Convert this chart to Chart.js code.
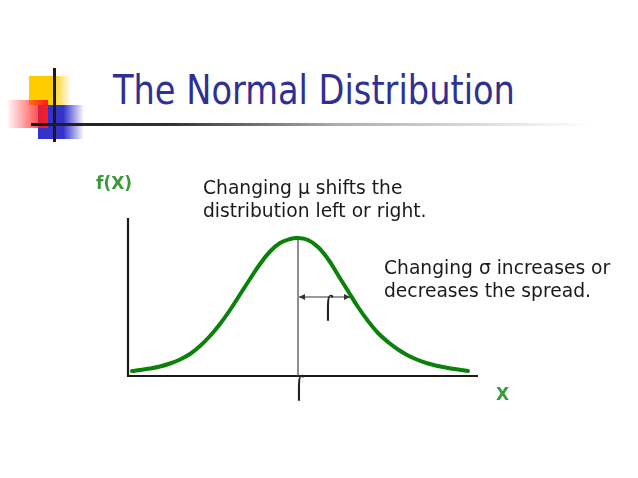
<!DOCTYPE html>
<html>
<head>
<meta charset="utf-8">
<script src="https://cdn.jsdelivr.net/npm/chart.js@4/dist/chart.umd.min.js"></script>
<style>
  html, body { margin: 0; padding: 0; background: #ffffff; }
  #wrap { position: relative; width: 638px; height: 478px; overflow: hidden; background: #fff; }
  #c { position: absolute; left: 0; top: 0; }
  .deco { position: absolute; }
  #title { position: absolute; left: 113px; top: 67px; font-family: "DejaVu Sans Condensed", "DejaVu Sans", sans-serif; font-size: 40px; color: #2E3192; white-space: nowrap; transform: scaleX(0.935); transform-origin: left top; }
  .txt { position: absolute; font-family: "DejaVu Sans", sans-serif; font-size: 18.7px; color: #1a1a1a; line-height: 23px; white-space: nowrap; }
  .lbl { position: absolute; font-family: "DejaVu Sans", sans-serif; font-weight: bold; font-size: 17px; color: #3A9A3A; white-space: nowrap; }
</style>
</head>
<body>
<div id="wrap">
  <div class="deco" style="left:29px;top:76px;width:42px;height:29px;background:linear-gradient(to right,#FFCC00 0%,#FFCC00 55%,rgba(255,204,0,0) 100%);"></div>
  <div class="deco" style="left:38px;top:105px;width:46px;height:34px;background:linear-gradient(to right,#3333CC 0%,#3333CC 55%,rgba(51,51,204,0) 100%);"></div>
  <div class="deco" style="left:8px;top:100px;width:40px;height:28px;background:linear-gradient(to right,rgba(255,60,60,0.05) 0%,rgba(255,40,40,0.55) 50%,#ff1a1a 100%);"></div>
  <div class="deco" style="left:53px;top:68px;width:2.5px;height:74px;background:#1a1a1a;"></div>
  <div class="deco" style="left:31px;top:123px;width:560px;height:2.5px;background:linear-gradient(to right,#1a1a1a 0%,#333 25%,rgba(120,120,120,0.6) 55%,rgba(200,200,200,0) 100%);"></div>
  <div id="title">The Normal Distribution</div>
  <canvas id="c" width="638" height="478"></canvas>
  <div class="txt" style="left:203px;top:176px;">Changing μ shifts the<br>distribution left or right.</div>
  <div class="txt" style="left:384px;top:256px;">Changing σ increases or<br>decreases the spread.</div>
  <div class="lbl" style="left:96px;top:173px;">f(X)</div>
  <div class="lbl" style="left:496px;top:384px;">X</div>
</div>
<script>
// Curve: horizontal position along the axis and height above the x-axis
const curveX = [4, 12, 22, 32, 42, 52, 62, 72, 82, 92, 102, 112, 122, 132, 142, 152, 162, 170,
                180, 190, 200, 210, 220, 230, 240, 250, 260, 270, 280, 290, 300, 310, 320, 330, 340];
const curveY = [5, 6, 7.5, 9.5, 12.5, 16.5, 22, 30, 40, 52, 66, 81.5, 97, 112, 124.5, 133, 137, 138,
                136, 129, 117, 101, 85, 69, 55, 43, 34, 26.5, 20.5, 16, 12.5, 10, 8, 6.5, 5];
// mean line and sigma arrow
const meanX = 170;
const meanTop = 138;
const sigmaEndX = 222;
const arrowY = 79;
const xMin = 0, xMax = 350, yMin = 0, yMax = 158;

const curveData = curveX.map((x, i) => ({x: x, y: curveY[i]}));
const meanData = [{x: meanX, y: 0}, {x: meanX, y: meanTop}];

const decorPlugin = {
  id: 'decor',
  beforeDatasetsDraw(chart) {
    const ctx = chart.ctx, a = chart.chartArea;
    ctx.save();
    ctx.strokeStyle = '#1a1a1a';
    ctx.lineWidth = 2.2;
    ctx.beginPath();
    ctx.moveTo(a.left, a.top);
    ctx.lineTo(a.left, a.bottom);
    ctx.lineTo(a.right, a.bottom);
    ctx.stroke();
    ctx.restore();
  },
  afterDatasetsDraw(chart) {
    const ctx = chart.ctx;
    const xs = chart.scales.x, ys = chart.scales.y;
    const x0 = xs.getPixelForValue(meanX) + 1, x1 = xs.getPixelForValue(sigmaEndX);
    const y = ys.getPixelForValue(arrowY);
    ctx.save();
    ctx.strokeStyle = '#333';
    ctx.fillStyle = '#333';
    ctx.lineWidth = 1;
    ctx.beginPath();
    ctx.moveTo(x0, y); ctx.lineTo(x1, y); ctx.stroke();
    ctx.beginPath();
    ctx.moveTo(x0, y); ctx.lineTo(x0 + 6, y - 3); ctx.lineTo(x0 + 6, y + 3); ctx.closePath(); ctx.fill();
    ctx.beginPath();
    ctx.moveTo(x1, y); ctx.lineTo(x1 - 6, y - 3); ctx.lineTo(x1 - 6, y + 3); ctx.closePath(); ctx.fill();
    // symbol glyphs (rendered as in the original)
    ctx.font = '22px "DejaVu Sans"';
    ctx.textAlign = 'center';
    ctx.textBaseline = 'top';
    ctx.fillStyle = '#222';
    const mx = xs.getPixelForValue(meanX);
    ctx.fillText('\u2320', mx + 1, ys.getPixelForValue(0) + 2);
    ctx.fillText('\u2320', xs.getPixelForValue((meanX + sigmaEndX) / 2 + 4), y + 1);
    ctx.restore();
  }
};

new Chart(document.getElementById('c'), {
  type: 'line',
  data: {
    datasets: [
      {
        data: curveData,
        borderColor: '#0A820A',
        borderWidth: 4,
        pointRadius: 0,
        tension: 0.4,
        borderCapStyle: 'round',
        borderJoinStyle: 'round',
        fill: false
      },
      {
        data: meanData,
        borderColor: '#444',
        borderWidth: 1.2,
        pointRadius: 0,
        tension: 0,
        fill: false
      }
    ]
  },
  options: {
    responsive: false,
    animation: false,
    devicePixelRatio: 1,
    layout: { padding: { left: 128, right: 160, top: 218, bottom: 102 } },
    plugins: { legend: { display: false }, tooltip: { enabled: false }, title: { display: false } },
    scales: {
      x: { type: 'linear', min: xMin, max: xMax, display: false },
      y: { type: 'linear', min: yMin, max: yMax, display: false }
    }
  },
  plugins: [decorPlugin]
});
</script>
</body>
</html>
